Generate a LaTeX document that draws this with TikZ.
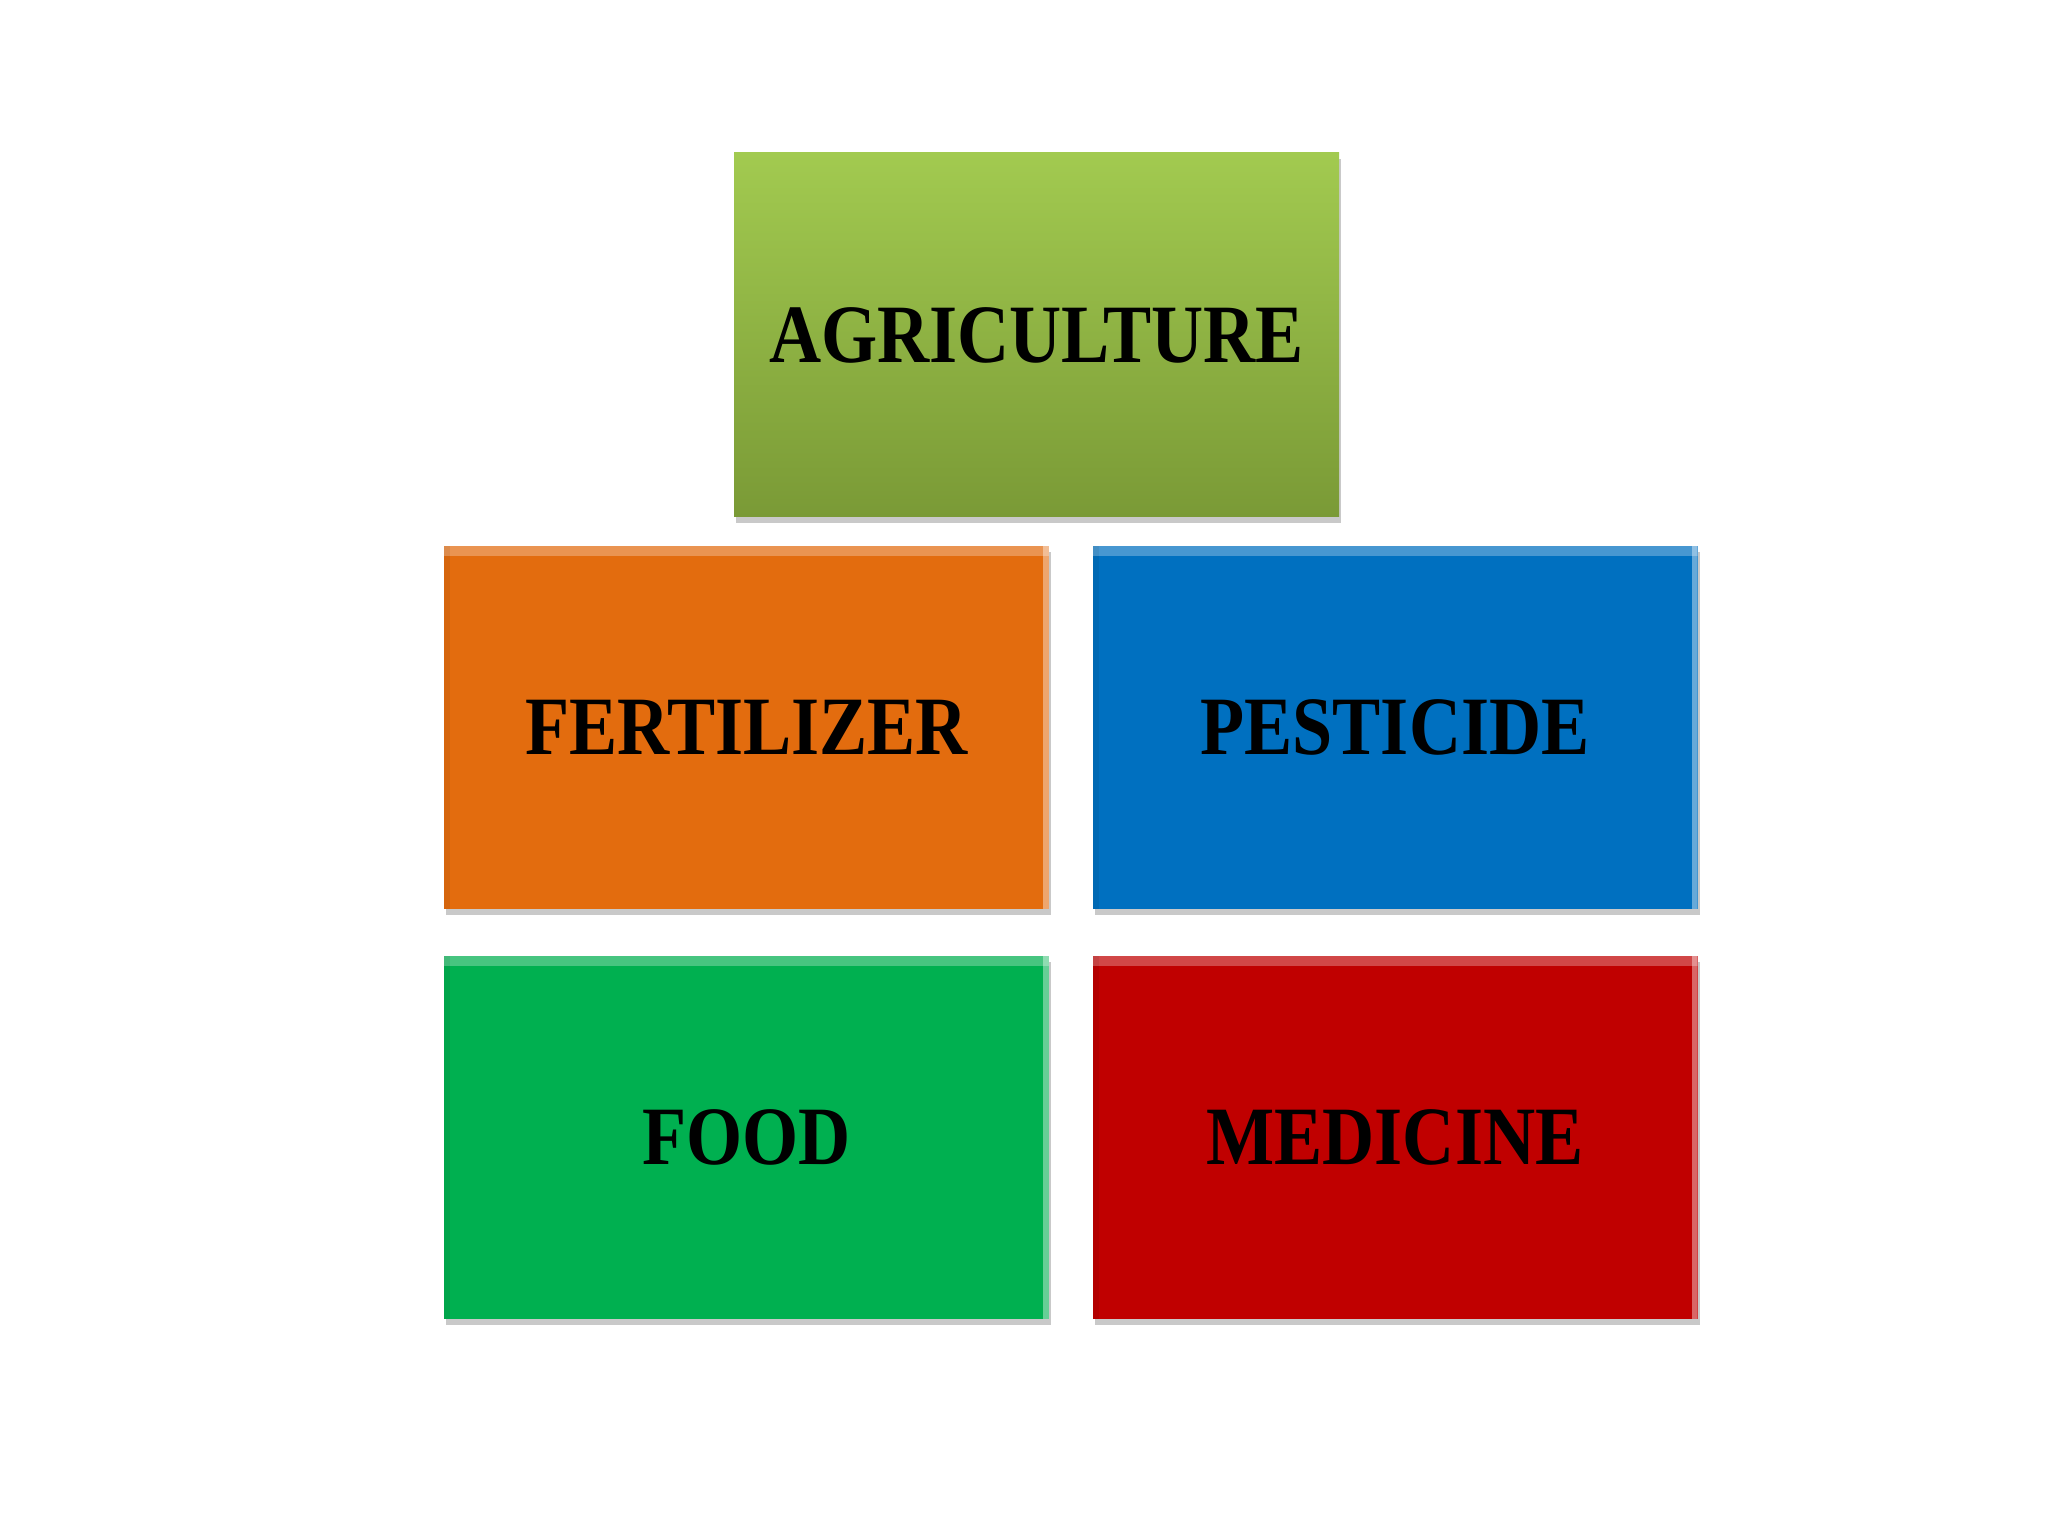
\documentclass[tikz,border=0pt]{standalone}
\usepackage{fontspec}
\setmainfont{Liberation Serif}[FakeStretch=0.87]
\usetikzlibrary{shadows}
\definecolor{agtop}{HTML}{A2CA50}
\definecolor{agbot}{HTML}{7A9A36}
\definecolor{orng}{HTML}{E36C0E}
\definecolor{blu}{HTML}{0070C0}
\definecolor{grn}{HTML}{00B050}
\definecolor{rd}{HTML}{C00000}
\tikzset{
  tile/.style={rectangle, minimum width=6.05cm, minimum height=3.63cm, inner sep=0pt,
    font=\fontsize{23.6}{28}\selectfont\bfseries, text=black,
    drop shadow={shadow xshift=0.02cm, shadow yshift=-0.06cm, opacity=0.35, fill=black!60}},
  bevel/.style={path picture={
    \fill[white, opacity=0.28] (path picture bounding box.north west) rectangle ([yshift=-0.1cm]path picture bounding box.north east);
    \fill[white, opacity=0.4] ([xshift=-0.06cm]path picture bounding box.south east) rectangle (path picture bounding box.north east);
    \fill[black, opacity=0.06] (path picture bounding box.south west) rectangle ([xshift=0.06cm]path picture bounding box.north west);
  }}
}
\begin{document}
\begin{tikzpicture}
\useasboundingbox[fill=white] (0,0) rectangle (20.48,15.36);
\node[tile, top color=agtop, bottom color=agbot, minimum height=3.64cm] (agri) at (10.365,12.01) {AGRICULTURE};
\node[tile, fill=orng, bevel] (fert) at (7.465,8.085) {FERTILIZER};
\node[tile, fill=blu, bevel] (pest) at (13.95,8.085) {PESTICIDE};
\node[tile, fill=grn, bevel] (food) at (7.465,3.985) {FOOD};
\node[tile, fill=rd, bevel] (med) at (13.95,3.985) {MEDICINE};
\end{tikzpicture}
\end{document}
